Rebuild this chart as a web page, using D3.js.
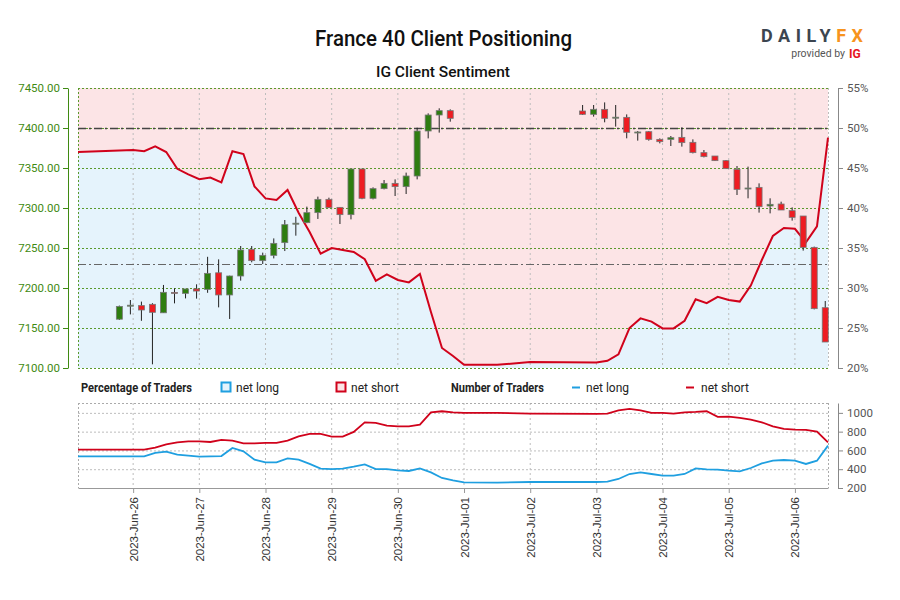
<!DOCTYPE html>
<html><head><meta charset="utf-8">
<script src="https://cdn.jsdelivr.net/npm/d3@7"></script>
<style>body{margin:0;background:#fff;} svg{display:block;font-family:Roboto, "Liberation Sans", sans-serif;}</style>
</head><body><svg id="c" width="900" height="600"></svg>
<script>
// ---------- DATA ----------
const candleTimes = [
 "2023-06-25T19:00","2023-06-25T23:00",
 "2023-06-26T03:00","2023-06-26T07:00","2023-06-26T11:00","2023-06-26T15:00","2023-06-26T19:00","2023-06-26T23:00",
 "2023-06-27T03:00","2023-06-27T07:00","2023-06-27T11:00","2023-06-27T15:00","2023-06-27T19:00","2023-06-27T23:00",
 "2023-06-28T03:00","2023-06-28T07:00","2023-06-28T11:00","2023-06-28T15:00","2023-06-28T19:00","2023-06-28T23:00",
 "2023-06-29T03:00","2023-06-29T07:00","2023-06-29T11:00","2023-06-29T15:00","2023-06-29T19:00","2023-06-29T23:00",
 "2023-06-30T03:00","2023-06-30T07:00","2023-06-30T11:00","2023-06-30T15:00","2023-06-30T19:00",
 "2023-07-02T19:00","2023-07-02T23:00",
 "2023-07-03T03:00","2023-07-03T07:00","2023-07-03T11:00","2023-07-03T15:00","2023-07-03T19:00","2023-07-03T23:00",
 "2023-07-04T03:00","2023-07-04T07:00","2023-07-04T11:00","2023-07-04T15:00","2023-07-04T19:00","2023-07-04T23:00",
 "2023-07-05T03:00","2023-07-05T07:00","2023-07-05T11:00","2023-07-05T15:00","2023-07-05T19:00","2023-07-05T23:00",
 "2023-07-06T03:00","2023-07-06T07:00","2023-07-06T11:00"
];
const candleOpen = [7161,7177.5,7178,7179.6,7169,7194.5,7193.3,7198.8,7198.3,7219,7191.3,7215,7248.3,7234.2,7240.8,7256.7,7280,7281.7,7294.2,7310.8,7300.8,7291.7,7348.75,7312.1,7324.2,7330.8,7326.7,7340,7396.25,7416.25,7421.7,
 7421.25,7417.1,7423.3,7413,7413.3,7395,7395.4,7385.8,7385.8,7388.3,7382.1,7369.2,7365,7359.2,7348.3,7324.2,7325.8,7302.5,7305,7296.7,7290,7250.8,7175.4];
const candleHigh = [7178,7185,7183,7181,7203.8,7199.6,7198.8,7204.6,7239,7235.8,7215.4,7252.5,7252.5,7244.2,7262,7285,7289,7301.7,7314.2,7312.9,7300.8,7348.75,7349,7325.8,7335,7335.8,7344.2,7400.4,7418.3,7424.6,7423.3,
 7428.75,7428.75,7432,7428.75,7417,7396.25,7396.25,7387,7390,7400.8,7385.8,7372.5,7365,7360,7352.5,7351.7,7330.8,7312.1,7307.9,7300.8,7290,7251.7,7183.75];
const candleLow = [7160,7167,7159,7104.6,7169,7180.8,7187,7186.7,7194,7175.8,7161.3,7209.2,7232.1,7230,7237,7246.2,7265.4,7281,7286.3,7300,7280,7285.8,7311,7310.8,7323.3,7315,7317.5,7335.8,7387,7394.2,7407.9,
 7416.25,7414.2,7407.1,7401.7,7387.1,7384.2,7384.2,7380.8,7377.5,7376.7,7368.3,7363.3,7358.75,7349.2,7316.25,7312.1,7294.2,7293.3,7297.5,7284.2,7246.7,7173.3,7132.5];
const candleClose = [7177,7178.5,7172.5,7169.6,7194.6,7194,7198.8,7196.2,7218.3,7191.3,7215,7247.5,7234.2,7240.8,7255.8,7279.2,7281,7294.2,7310.8,7300.4,7291.7,7348.75,7312.1,7324.2,7330.8,7326.7,7340,7396.25,7416.25,7421.7,7412.1,
 7417.1,7423.3,7412.1,7413.5,7394.6,7395,7385.8,7382.9,7387.9,7381.7,7369.2,7364.2,7359.2,7349.2,7323.3,7325,7301.7,7304.6,7297.5,7288.3,7250.8,7174.2,7132.5];

const sentTimes = [
 "2023-06-25T04:00",
 "2023-06-26T00:00","2023-06-26T04:00","2023-06-26T08:00","2023-06-26T12:00","2023-06-26T16:00","2023-06-26T20:00",
 "2023-06-27T00:00","2023-06-27T04:00","2023-06-27T08:00","2023-06-27T12:00","2023-06-27T16:00","2023-06-27T20:00",
 "2023-06-28T00:00","2023-06-28T04:00","2023-06-28T08:00","2023-06-28T12:00","2023-06-28T16:00","2023-06-28T20:00",
 "2023-06-29T00:00","2023-06-29T04:00","2023-06-29T08:00","2023-06-29T12:00","2023-06-29T16:00","2023-06-29T20:00",
 "2023-06-30T00:00","2023-06-30T04:00","2023-06-30T08:00","2023-06-30T12:00","2023-06-30T16:00","2023-06-30T20:00",
 "2023-07-01T00:00","2023-07-01T12:00","2023-07-02T00:00",
 "2023-07-03T00:00","2023-07-03T04:00","2023-07-03T08:00","2023-07-03T12:00","2023-07-03T16:00","2023-07-03T20:00",
 "2023-07-04T00:00","2023-07-04T04:00","2023-07-04T08:00","2023-07-04T12:00","2023-07-04T16:00","2023-07-04T20:00",
 "2023-07-05T00:00","2023-07-05T04:00","2023-07-05T08:00","2023-07-05T12:00","2023-07-05T16:00","2023-07-05T20:00",
 "2023-07-06T00:00","2023-07-06T04:00","2023-07-06T08:00","2023-07-06T12:00"
];
const netLongPct = [47.0,
 47.25,47.1,47.7,47.0,44.9,44.2,
 43.6,43.8,43.2,47.1,46.75,42.7,
 41.2,41.0,42.25,39.4,37.0,34.3,
 35.0,34.75,34.5,33.6,30.9,31.7,
 31.0,30.7,31.75,27.0,22.5,21.5,
 20.4,20.4,20.75,
 20.7,20.9,21.7,25.0,26.2,25.8,
 24.95,24.95,25.9,28.6,28.1,28.9,
 28.5,28.3,30.3,33.5,36.5,37.5,
 37.4,35.7,37.7,48.8];
const netLongCount = [537,
 537,537,573,587,555,544,
 534,537,540,626,590,502,
 473,473,516,502,456,406,
 402,406,427,452,402,402,
 388,381,409,366,307,281,
 260,257,264,
 264,267,296,349,366,349,
 331,331,349,409,398,395,
 384,377,413,462,491,498,
 491,456,491,651];
const netShortCount = [608,
 608,608,630,665,686,697,
 697,690,712,704,675,675,
 680,680,704,750,776,776,
 747,747,797,899,893,864,
 857,857,875,1006,1017,1006,
 1000,1000,992,
 989,992,1027,1042,1027,1000,
 1000,992,1006,1010,1017,957,
 960,946,928,899,857,829,
 821,818,800,686];

const dateTicks = ["2023-06-26","2023-06-27","2023-06-28","2023-06-29","2023-06-30","2023-07-01","2023-07-02","2023-07-03","2023-07-04","2023-07-05","2023-07-06"];
const priceTicks = [7100,7150,7200,7250,7300,7350,7400,7450];
const pctTicks = [20,25,30,35,40,45,50,55];
const countTicks = [200,400,600,800,1000];
const refLinesPct = [50, 33];
const xDomain = ["2023-06-25T04:00","2023-07-06T12:00"];

// ---------- SETUP ----------
const parseT = d3.utcParse("%Y-%m-%dT%H:%M");
const parseD = d3.utcParse("%Y-%m-%d");
const svg = d3.select("#c");
const L = 78, R = 828, T = 88, B = 368, T2 = 403, B2 = 488;

const x = d3.scaleUtc().domain(xDomain.map(parseT)).range([L, R]);
const yP = d3.scaleLinear().domain([7100, 7450]).range([B, T]);
const yPct = d3.scaleLinear().domain([20, 55]).range([B, T]);
const yC = d3.scaleLinear().domain([200, 1105]).range([B2, T2]);

const candles = candleTimes.map((t, i) => ({t: parseT(t), o: candleOpen[i], h: candleHigh[i], l: candleLow[i], c: candleClose[i]}));
const sent = sentTimes.map((t, i) => ({t: parseT(t), p: netLongPct[i], lc: netLongCount[i], sc: netShortCount[i]}));
const days = dateTicks.map(parseD);

const RED = "#d0021b", BLUE = "#1f9fe0", GREEN_TXT = "#3f8a12";

// ---------- TITLES ----------
svg.append("text").attr("x", 443.5).attr("y", 46).attr("text-anchor", "middle")
  .attr("font-size", 22).attr("font-weight", 500).attr("fill", "#111")
  .attr("textLength", 257).attr("lengthAdjust", "spacingAndGlyphs")
  .text("France 40 Client Positioning");
svg.append("text").attr("x", 443).attr("y", 77).attr("text-anchor", "middle")
  .attr("font-size", 15).attr("font-weight", 500).attr("fill", "#111")
  .attr("textLength", 134).attr("lengthAdjust", "spacingAndGlyphs")
  .text("IG Client Sentiment");

// logo
const logo = svg.append("text").attr("x", 761).attr("y", 42).attr("font-size", 18).attr("font-weight", 700)
  .attr("textLength", 102).attr("lengthAdjust", "spacing");
logo.append("tspan").attr("fill", "#3c4550").text("DAILY");
logo.append("tspan").attr("fill", "#f7941d").text("FX");
svg.append("text").attr("x", 845).attr("y", 57).attr("text-anchor", "end").attr("font-size", 10.5).attr("fill", "#555")
  .text("provided by");
svg.append("text").attr("x", 849).attr("y", 58).attr("font-size", 12).attr("font-weight", 700).attr("fill", "#e6161e")
  .text("IG");

// ---------- MAIN PANEL ----------
svg.append("rect").attr("x", L).attr("y", T).attr("width", R - L).attr("height", B - T).attr("fill", "#fce4e6");
svg.append("path").datum(sent)
  .attr("d", d3.area().x(d => x(d.t)).y0(B).y1(d => yPct(d.p)))
  .attr("fill", "#e5f3fc");

// vertical grid
svg.append("g").selectAll("line").data(days).join("line")
  .attr("x1", d => x(d)).attr("x2", d => x(d)).attr("y1", T).attr("y2", B)
  .attr("stroke", "#bdbdbd").attr("stroke-dasharray", "2,3").attr("stroke-width", 1);
// horizontal grid
svg.append("g").selectAll("line").data(priceTicks).join("line")
  .attr("x1", L).attr("x2", R).attr("y1", d => yP(d) + 0.5).attr("y2", d => yP(d) + 0.5)
  .attr("stroke", "#5a9a2c").attr("stroke-dasharray", "2,2").attr("stroke-width", 1);
// borders
svg.append("line").attr("x1", L + 0.5).attr("x2", L + 0.5).attr("y1", T).attr("y2", B)
  .attr("stroke", "#5a9a2c").attr("stroke-dasharray", "2,2");
svg.append("line").attr("x1", R + 0.5).attr("x2", R + 0.5).attr("y1", T).attr("y2", B)
  .attr("stroke", "#bdbdbd").attr("stroke-dasharray", "2,2");

// reference dash-dot lines
svg.append("g").selectAll("line").data(refLinesPct).join("line")
  .attr("x1", L).attr("x2", R).attr("y1", d => yPct(d) + 0.5).attr("y2", d => yPct(d) + 0.5)
  .attr("stroke", (d, i) => i === 0 ? "#444" : "#666")
  .attr("stroke-width", (d, i) => i === 0 ? 1.4 : 1)
  .attr("stroke-dasharray", "8,3,2,3");

// sentiment line
svg.append("path").datum(sent)
  .attr("d", d3.line().x(d => x(d.t)).y(d => yPct(d.p)))
  .attr("fill", "none").attr("stroke", RED).attr("stroke-width", 2);

// candles
const cw = 6;
const cg = svg.append("g");
cg.selectAll("line").data(candles).join("line")
  .attr("x1", d => x(d.t)).attr("x2", d => x(d.t))
  .attr("y1", d => yP(d.h)).attr("y2", d => yP(d.l))
  .attr("stroke", "#222").attr("stroke-width", 1);
cg.selectAll("rect").data(candles).join("rect")
  .attr("x", d => x(d.t) - cw / 2)
  .attr("y", d => yP(Math.max(d.o, d.c)))
  .attr("width", cw)
  .attr("height", d => Math.max(1, Math.abs(yP(d.o) - yP(d.c))))
  .attr("fill", d => d.c >= d.o ? "#2e7d10" : "#ee1c22")
  .attr("stroke", "#777").attr("stroke-width", 0.8);

// left axis
const axL = svg.append("g").attr("transform", `translate(68,0)`)
  .call(d3.axisLeft(yP).tickValues(priceTicks).tickFormat(d3.format(".2f")).tickSize(5).tickSizeOuter(0).tickPadding(3));
axL.select(".domain").attr("stroke", GREEN_TXT);
axL.selectAll(".tick line").attr("stroke", GREEN_TXT);
axL.selectAll("text").attr("fill", GREEN_TXT).attr("font-size", 11.5).attr("font-family", "Roboto");

// right pct axis
const axR = svg.append("g").attr("transform", `translate(838,0)`)
  .call(d3.axisRight(yPct).tickValues(pctTicks).tickFormat(d => d + "%").tickSize(5).tickSizeOuter(0).tickPadding(4));
axR.select(".domain").attr("stroke", "#888");
axR.selectAll(".tick line").attr("stroke", "#888");
axR.selectAll("text").attr("fill", "#555").attr("font-size", 11.5).attr("font-family", "Roboto");

// ---------- LEGEND ----------
const lg = svg.append("g").attr("font-size", 12).attr("fill", "#222");
lg.append("text").attr("x", 81).attr("y", 391.5).attr("font-weight", 700)
  .attr("textLength", 111).attr("lengthAdjust", "spacingAndGlyphs").text("Percentage of Traders");
lg.append("rect").attr("x", 221.5).attr("y", 382.5).attr("width", 9).attr("height", 9)
  .attr("fill", "#e5f3fc").attr("stroke", BLUE).attr("stroke-width", 2);
lg.append("text").attr("x", 236).attr("y", 391.5).text("net long");
lg.append("rect").attr("x", 336.5).attr("y", 382.5).attr("width", 9).attr("height", 9)
  .attr("fill", "#fce4e6").attr("stroke", RED).attr("stroke-width", 2);
lg.append("text").attr("x", 351).attr("y", 391.5).text("net short");
lg.append("text").attr("x", 451).attr("y", 391.5).attr("font-weight", 700)
  .attr("textLength", 93).attr("lengthAdjust", "spacingAndGlyphs").text("Number of Traders");
lg.append("line").attr("x1", 572).attr("x2", 580).attr("y1", 387.5).attr("y2", 387.5).attr("stroke", BLUE).attr("stroke-width", 2);
lg.append("text").attr("x", 586).attr("y", 391.5).text("net long");
lg.append("line").attr("x1", 686).attr("x2", 694).attr("y1", 387.5).attr("y2", 387.5).attr("stroke", RED).attr("stroke-width", 2);
lg.append("text").attr("x", 701).attr("y", 391.5).text("net short");

// ---------- BOTTOM PANEL ----------
svg.append("g").selectAll("line").data(days).join("line")
  .attr("x1", d => x(d)).attr("x2", d => x(d)).attr("y1", T2).attr("y2", B2)
  .attr("stroke", "#bdbdbd").attr("stroke-dasharray", "2,3");
svg.append("g").selectAll("line").data(countTicks.filter(d => d > 200)).join("line")
  .attr("x1", L).attr("x2", R).attr("y1", d => yC(d) + 0.5).attr("y2", d => yC(d) + 0.5)
  .attr("stroke", "#bdbdbd").attr("stroke-dasharray", "2,2");
svg.append("line").attr("x1", L).attr("x2", R).attr("y1", T2 + 0.5).attr("y2", T2 + 0.5)
  .attr("stroke", "#aaa").attr("stroke-dasharray", "2,2");
svg.append("line").attr("x1", L + 0.5).attr("x2", L + 0.5).attr("y1", T2).attr("y2", B2)
  .attr("stroke", "#aaa").attr("stroke-dasharray", "2,2");
svg.append("line").attr("x1", R + 0.5).attr("x2", R + 0.5).attr("y1", T2).attr("y2", B2)
  .attr("stroke", "#aaa").attr("stroke-dasharray", "2,2");

svg.append("path").datum(sent)
  .attr("d", d3.line().x(d => x(d.t)).y(d => yC(d.sc)))
  .attr("fill", "none").attr("stroke", RED).attr("stroke-width", 1.8);
svg.append("path").datum(sent)
  .attr("d", d3.line().x(d => x(d.t)).y(d => yC(d.lc)))
  .attr("fill", "none").attr("stroke", BLUE).attr("stroke-width", 1.8);

const axR2 = svg.append("g").attr("transform", `translate(838,0)`)
  .call(d3.axisRight(yC).tickValues(countTicks).tickFormat(d3.format("d")).tickSize(5).tickSizeOuter(0).tickPadding(4));
axR2.select(".domain").attr("stroke", "#888");
axR2.selectAll(".tick line").attr("stroke", "#888");
axR2.selectAll("text").attr("fill", "#555").attr("font-size", 11.5).attr("font-family", "Roboto");

const axB = svg.append("g").attr("transform", `translate(0,${B2})`)
  .call(d3.axisBottom(x).tickValues(days).tickFormat(d3.utcFormat("%Y-%b-%d")).tickSize(5).tickSizeOuter(0));
axB.select(".domain").attr("stroke", "#999");
axB.selectAll(".tick line").attr("stroke", "#999");
axB.selectAll("text").attr("fill", "#333").attr("font-size", 11.5).attr("font-family", "'Liberation Sans', Arial, sans-serif")
  .attr("transform", "rotate(-90)").attr("text-anchor", "end").attr("x", -9).attr("y", 0).attr("dy", "0.35em");
</script></body></html>
